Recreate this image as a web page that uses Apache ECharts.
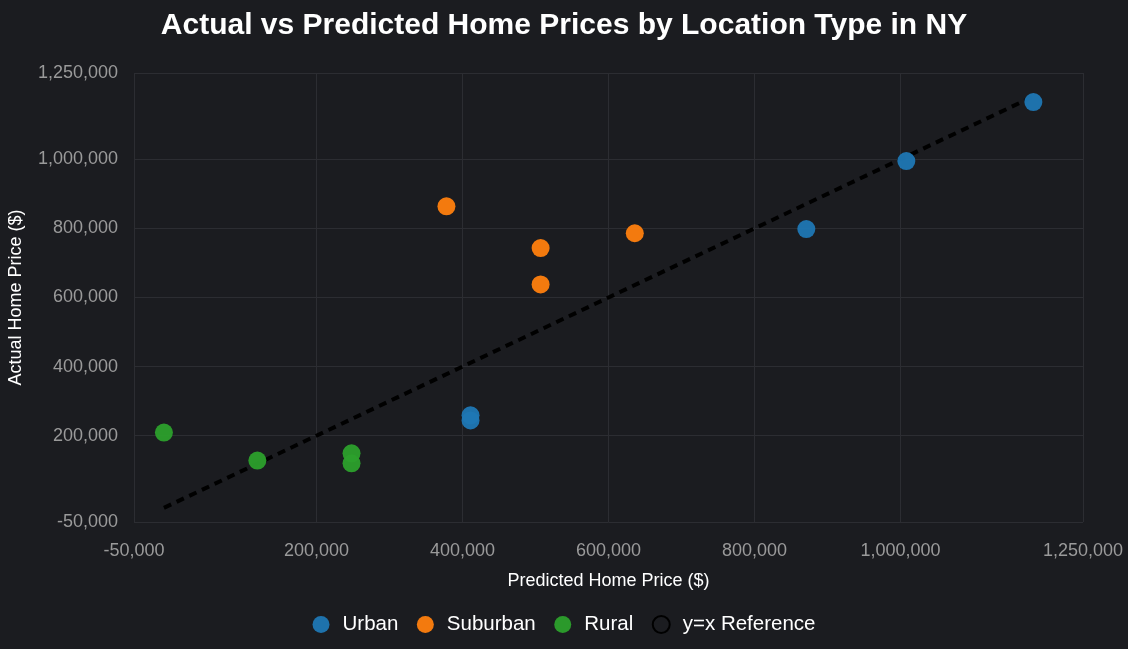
<!DOCTYPE html>
<html>
<head>
<meta charset="utf-8">
<script src="https://cdn.jsdelivr.net/npm/echarts@6/dist/echarts.min.js"></script>
<style>
  html, body { margin: 0; padding: 0; background: #1b1c20; }
  #main { width: 1128px; height: 649px; }
</style>
</head>
<body>
<div id="main"></div>
<script>
// predicted / actual prices
const urbanPred = [1182000, 1008000, 871000, 411000, 411000];
const urbanActual = [1166000, 995000, 798000, 259000, 244000];
const suburbanPred = [378000, 507000, 507000, 636000];
const suburbanActual = [864000, 743000, 638000, 786000];
const ruralPred = [-9000, 119000, 248000, 248000];
const ruralActual = [209000, 128000, 149000, 120000];
const refLine = [-9000, 1182000];
const tickValues = [-50000, 200000, 400000, 600000, 800000, 1000000, 1250000];

function pairs(xs, ys) {
    let out = [];
    for (let i = 0; i < xs.length; i++) out.push([xs[i], ys[i]]);
    return out;
}

const fmt = v => v.toLocaleString('en-US');
const gridColor = '#2c2d32';

function axis(name, gap, labelMargin, tickLen) {
    return {
        type: 'value',
        min: -50000,
        max: 1250000,
        name: name,
        nameLocation: 'middle',
        nameGap: gap,
        nameMoveOverlap: false,
        nameTextStyle: { color: '#ffffff', fontSize: 18 },
        axisLine: { show: false },
        axisTick: { show: true, length: tickLen, customValues: tickValues, lineStyle: { color: gridColor } },
        axisLabel: { color: '#9a9a9a', fontSize: 18, margin: labelMargin, customValues: tickValues, formatter: fmt },
        splitLine: { lineStyle: { color: gridColor } }
    };
}

let myChart = echarts.init(document.getElementById('main'));
myChart.setOption({
    backgroundColor: '#1b1c20',
    textStyle: { fontFamily: 'Liberation Sans, Arial, sans-serif' },
    title: {
        text: 'Actual vs Predicted Home Prices by Location Type in NY',
        left: 'center',
        top: 6,
        textStyle: { color: '#ffffff', fontSize: 30, fontWeight: 'bold' }
    },
    legend: {
        bottom: 9,
        left: 'center',
        icon: 'circle',
        itemWidth: 33,
        itemHeight: 17,
        itemGap: 18.5,
        textStyle: { color: '#ffffff', fontSize: 20.5 },
        data: [
            'Urban', 'Suburban', 'Rural',
            { name: 'y=x Reference', itemStyle: { color: '#1b1c20', borderColor: '#000000', borderWidth: 2 } }
        ]
    },
    grid: { left: 134, right: 45, top: 73, bottom: 127, containLabel: false, outerBoundsMode: 'none' },
    xAxis: axis('Predicted Home Price ($)', 50, 20, 12),
    yAxis: axis('Actual Home Price ($)', 109, 16, 11),
    series: [
        {
            name: 'Urban',
            type: 'scatter',
            symbolSize: 18,
            itemStyle: { color: '#1f77b4', opacity: 0.95 },
            data: pairs(urbanPred, urbanActual)
        },
        {
            name: 'Suburban',
            type: 'scatter',
            symbolSize: 18,
            itemStyle: { color: '#ff7f0e', opacity: 0.95 },
            data: pairs(suburbanPred, suburbanActual)
        },
        {
            name: 'Rural',
            type: 'scatter',
            symbolSize: 18,
            itemStyle: { color: '#2ca02c', opacity: 0.95 },
            data: pairs(ruralPred, ruralActual)
        },
        {
            name: 'y=x Reference',
            type: 'line',
            symbol: 'none',
            z: 1,
            itemStyle: { color: '#000000' },
            lineStyle: { color: '#000000', width: 4, type: [8, 6] },
            data: pairs(refLine, refLine)
        }
    ]
});
</script>
</body>
</html>
